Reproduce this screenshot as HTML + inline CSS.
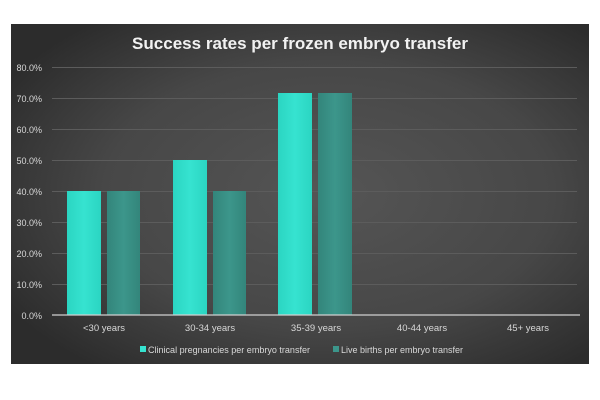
<!DOCTYPE html>
<html><head><meta charset="utf-8"><style>
html,body{margin:0;padding:0;background:#fff;}
svg{display:block;}
text{font-family:"Liberation Sans",sans-serif;}
</style></head><body>
<svg width="600" height="400" viewBox="0 0 600 400" xmlns="http://www.w3.org/2000/svg">
<defs>
<radialGradient id="bg" cx="0.55" cy="0.5" r="0.65">
<stop offset="0" stop-color="#555555"/>
<stop offset="0.6" stop-color="#474747"/>
<stop offset="1" stop-color="#2c2c2c"/>
</radialGradient>
<linearGradient id="c1" x1="0" x2="1"><stop offset="0" stop-color="#2bd5c2"/><stop offset="0.5" stop-color="#36e3d0"/><stop offset="1" stop-color="#2bd5c2"/></linearGradient>
<linearGradient id="c2" x1="0" x2="1"><stop offset="0" stop-color="#33857b"/><stop offset="0.5" stop-color="#3c968b"/><stop offset="1" stop-color="#33857b"/></linearGradient>
</defs>
<rect x="11" y="24" width="578" height="340" fill="url(#bg)"/>
<text x="300" y="49" text-anchor="middle" font-size="17" font-weight="bold" fill="#f2f2f2" textLength="336" lengthAdjust="spacingAndGlyphs">Success rates per frozen embryo transfer</text>
<g stroke="#5c5c5c" stroke-width="1">
<line x1="52" x2="577" y1="67.5" y2="67.5"/>
<line x1="52" x2="577" y1="98.5" y2="98.5"/>
<line x1="52" x2="577" y1="129.5" y2="129.5"/>
<line x1="52" x2="577" y1="160.5" y2="160.5"/>
<line x1="52" x2="577" y1="191.5" y2="191.5"/>
<line x1="52" x2="577" y1="222.5" y2="222.5"/>
<line x1="52" x2="577" y1="253.5" y2="253.5"/>
<line x1="52" x2="577" y1="284.5" y2="284.5"/>
</g>
<g font-size="9" fill="#d8d8d8" text-anchor="end">
<text x="42" y="71">80.0%</text>
<text x="42" y="102">70.0%</text>
<text x="42" y="133">60.0%</text>
<text x="42" y="164">50.0%</text>
<text x="42" y="195">40.0%</text>
<text x="42" y="226">30.0%</text>
<text x="42" y="257">20.0%</text>
<text x="42" y="288">10.0%</text>
<text x="42" y="319">0.0%</text>
</g>
<g>
<rect x="67" y="191" width="34" height="124" fill="url(#c1)"/>
<rect x="107" y="191" width="33" height="124" fill="url(#c2)"/>
<rect x="173" y="160" width="34" height="155" fill="url(#c1)"/>
<rect x="213" y="191" width="33" height="124" fill="url(#c2)"/>
<rect x="278" y="93" width="34" height="222" fill="url(#c1)"/>
<rect x="318" y="93" width="34" height="222" fill="url(#c2)"/>
</g>
<line x1="52" x2="580" y1="315" y2="315" stroke="#d0d0d0" stroke-width="1.2"/>
<g font-size="9.5" fill="#d8d8d8" text-anchor="middle">
<text x="104" y="331">&lt;30 years</text>
<text x="210" y="331">30-34 years</text>
<text x="316" y="331">35-39 years</text>
<text x="422" y="331">40-44 years</text>
<text x="528" y="331">45+ years</text>
</g>
<rect x="140" y="346" width="6" height="6" fill="#36e3d0"/>
<text x="148" y="353" font-size="9.5" fill="#d8d8d8" textLength="162" lengthAdjust="spacingAndGlyphs">Clinical pregnancies per embryo transfer</text>
<rect x="333" y="346" width="6" height="6" fill="#3c968b"/>
<text x="341" y="353" font-size="9.5" fill="#d8d8d8" textLength="122" lengthAdjust="spacingAndGlyphs">Live births per embryo transfer</text>
</svg>
</body></html>
